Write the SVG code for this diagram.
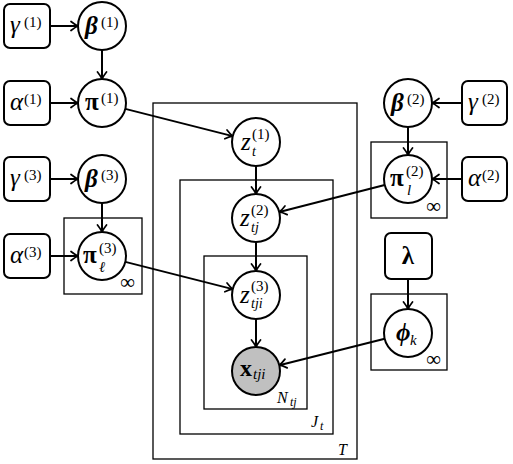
<svg xmlns="http://www.w3.org/2000/svg" width="513" height="464" viewBox="0 0 513 464">
<style>
.box{fill:#fff;stroke:#000;stroke-width:2}
.nd{fill:#fff;stroke:#000;stroke-width:2}
.obs{fill:#c0c0c0;stroke:#000;stroke-width:2}
.pl{fill:none;stroke:#000;stroke-width:1.3}
.ed{stroke:#000;stroke-width:2;fill:none;marker-end:url(#ah)}
</style>
<defs>
<marker id="ah" viewBox="-9 -6 10 12" refX="0" refY="0" markerWidth="10" markerHeight="12" markerUnits="userSpaceOnUse" orient="auto">
<path d="M-7,-4.5 Q-2.5,-1 0,0 Q-2.5,1 -7,4.5" fill="none" stroke="#000" stroke-width="1.7" stroke-linecap="round"/>
</marker>
</defs>
<rect x="0" y="0" width="513" height="464" fill="#fff"/>

<g id="plates">
<rect id="plate-T" class="pl" x="153" y="103" width="204" height="356"/>
<rect id="plate-J" class="pl" x="180" y="180" width="153" height="254"/>
<rect id="plate-N" class="pl" x="204" y="256" width="103" height="153"/>
<rect id="plate-pi3" class="pl" x="64" y="218" width="78" height="76"/>
<rect id="plate-pi2" class="pl" x="371" y="142" width="76" height="76"/>
<rect id="plate-phi" class="pl" x="371" y="294" width="76" height="76"/>
<g font-family="Liberation Serif" fill="#000">
<text x="120" y="289" font-size="21">∞</text>
<text x="426" y="213" font-size="21">∞</text>
<text x="426" y="366" font-size="21">∞</text>
<text x="277" y="403" font-size="16" font-style="italic">N</text><text x="290" y="406" font-size="12" font-style="italic">tj</text>
<text x="311" y="427" font-size="16" font-style="italic">J</text><text x="320" y="430" font-size="12" font-style="italic">t</text>
<text x="338" y="455" font-size="16" font-style="italic">T</text>
</g>
</g>

<g id="connectors">
<line class="ed" x1="50" y1="26" x2="78" y2="26"/>
<line class="ed" x1="102" y1="50" x2="102" y2="79"/>
<line class="ed" x1="50" y1="103" x2="78" y2="103"/>
<line class="ed" x1="50" y1="179" x2="78" y2="179"/>
<line class="ed" x1="102" y1="203" x2="102" y2="232"/>
<line class="ed" x1="50" y1="256" x2="78" y2="256"/>
<line class="ed" x1="125.3" y1="108.9" x2="232.7" y2="136.1"/>
<line class="ed" x1="125.3" y1="261.9" x2="232.7" y2="289.1"/>
<line class="ed" x1="384.7" y1="185" x2="279.3" y2="212"/>
<line class="ed" x1="384.7" y1="338.8" x2="279.3" y2="365.2"/>
<line class="ed" x1="256" y1="166" x2="256" y2="194"/>
<line class="ed" x1="256" y1="242" x2="256" y2="271"/>
<line class="ed" x1="256" y1="319" x2="256" y2="347"/>
<line class="ed" x1="462" y1="103" x2="432" y2="103"/>
<line class="ed" x1="462" y1="179" x2="432" y2="179"/>
<line class="ed" x1="408" y1="127" x2="408" y2="155"/>
<line class="ed" x1="408" y1="279" x2="408" y2="309"/>
</g>

<g font-family="Liberation Serif" fill="#000">
<g id="gamma1"><rect class="box" x="4" y="4" width="46" height="44" rx="6"/>
<text x="10" y="33" font-size="25" font-style="italic">γ</text><text x="24" y="27" font-size="15">(1)</text></g>
<g id="beta1"><circle class="nd" cx="102" cy="26" r="24"/>
<text x="85" y="34" font-size="25" font-style="italic" font-weight="bold">β</text><text x="101" y="27" font-size="15">(1)</text></g>
<g id="alpha1"><rect class="box" x="4" y="81" width="46" height="44" rx="6"/>
<text x="10" y="110" font-size="25" font-style="italic">α</text><text x="24" y="104" font-size="15">(1)</text></g>
<g id="pi1"><circle class="nd" cx="102" cy="103" r="24"/>
<text x="85" y="110" font-size="25" font-weight="bold">π</text><text x="101" y="103" font-size="15">(1)</text></g>

<g id="gamma3"><rect class="box" x="4" y="157" width="46" height="44" rx="6"/>
<text x="10" y="186" font-size="25" font-style="italic">γ</text><text x="24" y="180" font-size="15">(3)</text></g>
<g id="beta3"><circle class="nd" cx="102" cy="179" r="24"/>
<text x="85" y="187" font-size="25" font-style="italic" font-weight="bold">β</text><text x="101" y="180" font-size="15">(3)</text></g>
<g id="alpha3"><rect class="box" x="4" y="234" width="46" height="44" rx="6"/>
<text x="10" y="263" font-size="25" font-style="italic">α</text><text x="24" y="257" font-size="15">(3)</text></g>
<g id="pi3"><circle class="nd" cx="102" cy="256" r="24"/>
<text x="83" y="263" font-size="25" font-weight="bold">π</text><text x="99" y="253" font-size="15">(3)</text><text x="99" y="272" font-size="15" font-style="italic">ℓ</text></g>

<g id="z1"><circle class="nd" cx="256" cy="142" r="24"/>
<text x="241" y="150" font-size="25" font-style="italic">z</text><text x="252" y="139" font-size="15">(1)</text><text x="252" y="156" font-size="14" font-style="italic">t</text></g>
<g id="z2"><circle class="nd" cx="256" cy="218" r="24"/>
<text x="240" y="226" font-size="25" font-style="italic">z</text><text x="251" y="215" font-size="15">(2)</text><text x="251" y="232" font-size="14" font-style="italic">tj</text></g>
<g id="z3"><circle class="nd" cx="256" cy="295" r="24"/>
<text x="240" y="303" font-size="25" font-style="italic">z</text><text x="251" y="291" font-size="15">(3)</text><text x="251" y="308" font-size="14" font-style="italic">tji</text></g>
<g id="x"><circle class="obs" cx="256" cy="371" r="24"/>
<text x="240" y="376" font-size="24" font-weight="bold">x</text><text x="253" y="379" font-size="15" font-style="italic">tji</text></g>

<g id="beta2"><circle class="nd" cx="408" cy="103" r="24"/>
<text x="391" y="111" font-size="25" font-style="italic" font-weight="bold">β</text><text x="407" y="104" font-size="15">(2)</text></g>
<g id="gamma2"><rect class="box" x="462" y="81" width="45" height="44" rx="6"/>
<text x="468" y="110" font-size="25" font-style="italic">γ</text><text x="482" y="104" font-size="15">(2)</text></g>
<g id="pi2"><circle class="nd" cx="408" cy="179" r="24"/>
<text x="390" y="186" font-size="25" font-weight="bold">π</text><text x="406" y="176" font-size="15">(2)</text><text x="407" y="195" font-size="15" font-style="italic">l</text></g>
<g id="alpha2"><rect class="box" x="462" y="157" width="45" height="44" rx="6"/>
<text x="468" y="186" font-size="25" font-style="italic">α</text><text x="482" y="180" font-size="15">(2)</text></g>
<g id="lambda"><rect class="box" x="385" y="233" width="47" height="46" rx="6"/>
<text x="408" y="264" font-size="25" font-weight="bold" text-anchor="middle">λ</text></g>
<g id="phi"><circle class="nd" cx="408" cy="333" r="24"/>
<text x="396" y="341" font-size="25" font-style="italic" font-weight="bold">ϕ</text><text x="410" y="345" font-size="15" font-style="italic">k</text></g>
</g>
</svg>
